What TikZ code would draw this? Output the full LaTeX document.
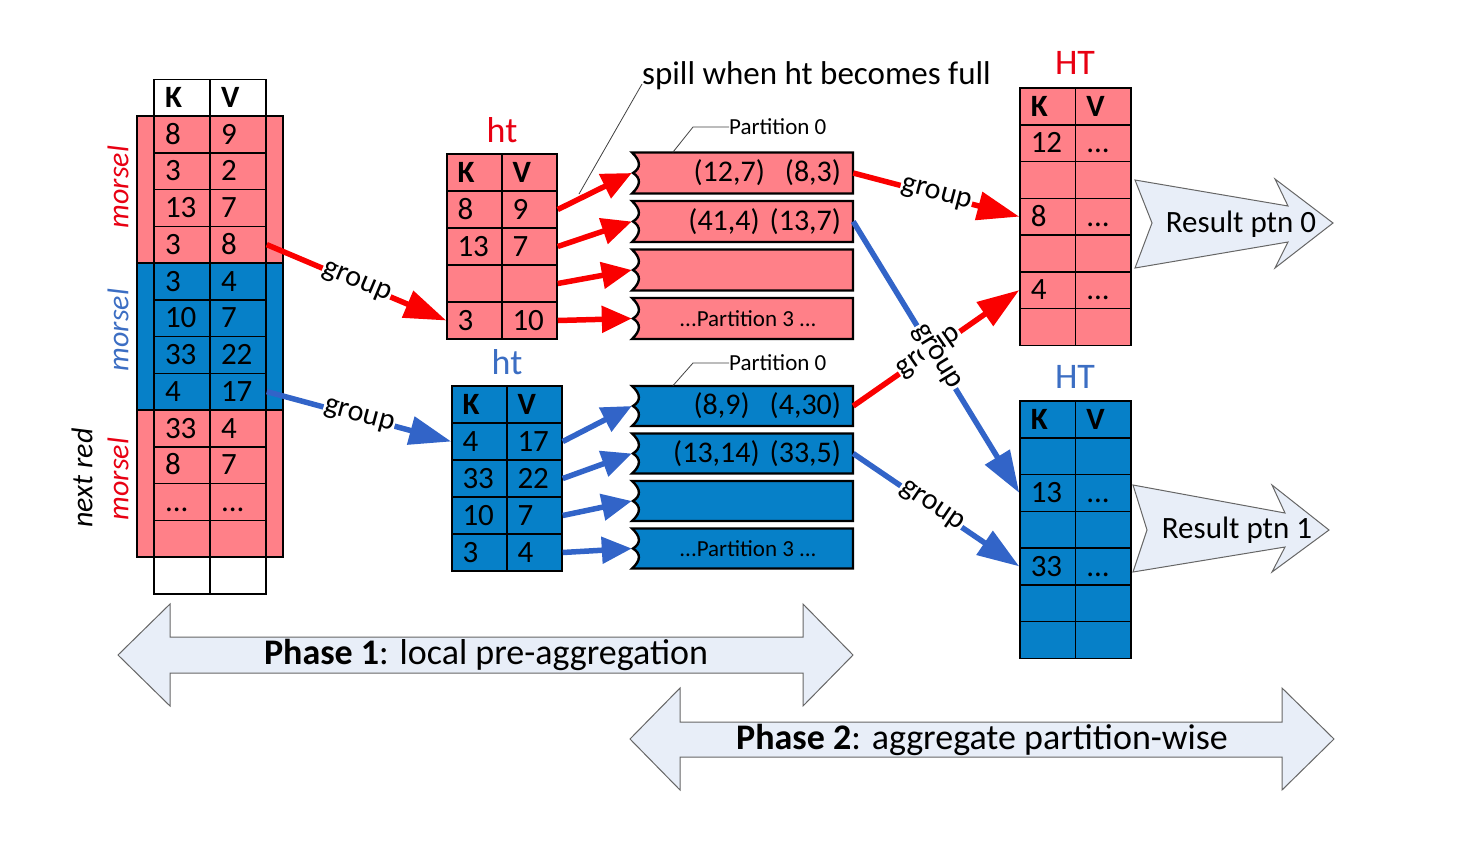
\documentclass[tikz,border=0pt]{standalone}
\usepackage{fontspec}
\setmainfont{Carlito}
\usetikzlibrary{arrows.meta, positioning}

\definecolor{tabred}{RGB}{255,128,136}
\definecolor{tabblue}{RGB}{6,128,200}
\definecolor{arrred}{RGB}{250,0,0}
\definecolor{arrblue}{RGB}{50,100,200}
\definecolor{txtred}{RGB}{232,0,18}
\definecolor{txtblue}{RGB}{60,110,195}
\definecolor{phasefill}{RGB}{232,238,248}
\newcommand\threedots{...}

\begin{document}
\begin{tikzpicture}[x=1pt,y=-1pt]

\tikzset{cell/.style = {draw, line width=1.5pt, minimum width=56pt, minimum height=36.75pt, inner sep=0pt, text width=34pt, text height=19.5pt, text depth=0pt, align=left, font=\fontsize{31}{34}\selectfont}}
\tikzset{ptn/.style = {minimum width=221pt, minimum height=41pt, inner xsep=12pt, inner ysep=0pt, text width=197pt, align=right, font=\fontsize{30}{34}\selectfont}}
\tikzset{ptnbox/.style = {draw, line width=2.4pt}}
\tikzset{note/.style = {inner sep=0pt, font=\fontsize{23}{26}\selectfont}}
\tikzset{callout/.style = {draw=black!75, line width=0.8pt}}
\tikzset{lab/.style = {inner sep=0pt, font=\fontsize{36}{40}\selectfont}}
\tikzset{morsel/.style = {inner sep=0pt, rotate=90, font=\fontsize{30}{32}\selectfont\itshape}}
\tikzset{grp/.style = {sloped, fill=white, inner sep=1pt, font=\fontsize{30}{32}\selectfont}}
\tikzset{redarr/.style = {draw=arrred, line width=5.5pt, -{Triangle[length=30pt,width=26pt]}}}
\tikzset{bluearr/.style = {draw=arrblue, line width=5.5pt, -{Triangle[length=30pt,width=26pt]}}}
\tikzset{long/.style = {-{Triangle[length=42pt,width=28pt]}}}
\tikzset{bigarrow/.style = {draw=black!60, line width=1pt, fill=phasefill}}

\useasboundingbox (0,0) rectangle (1461,852);

%input morsels
\draw[line width=1.5pt, fill=tabred] (137,116) rectangle (283,263);
\draw[line width=1.5pt, fill=tabblue] (137,263) rectangle (283,410);
\draw[line width=1.5pt, fill=tabred] (137,410) rectangle (283,557);
\node[cell, fill=white] (in-kh) at (182,98) {\textbf{K}};
\node[cell, fill=white] (in-vh) at (238,98) {\textbf{V}};
\foreach \k/\v [count=\i] in {8/9, 3/2, 13/7, 3/8, 3/4, 10/7, 33/22, 4/17, 33/4, 8/7, \threedots/\threedots, {}/{}}
{
  \node[cell] (in-k\i) at (182,{116+36.75*(\i-0.5)}) {\k};
  \node[cell] (in-v\i) at (238,{116+36.75*(\i-0.5)}) {\v};
}
\node[cell] (in-kb) at (182,575.4) {};
\node[cell] (in-vb) at (238,575.4) {};

\node[morsel, text=txtred] (m-top) at (118,187) {morsel};
\node[morsel, text=txtblue] (m-mid) at (118,330) {morsel};
\node[morsel, text=txtred] (m-bot) at (118,479) {morsel};
\node[morsel] (m-next) at (82,478) {next red};

%local hash tables
\node[lab, text=txtred] (htr) at (502,130) {ht};
\foreach \k/\v [count=\i] in {\textbf{K}/\textbf{V}, 8/9, 13/7, {}/{}, 3/10}
{
  \node[cell, fill=tabred, minimum width=55pt, minimum height=37pt] (htr-k\i) at (474.5,{154+37*(\i-0.5)}) {\k};
  \node[cell, fill=tabred, minimum width=55pt, minimum height=37pt] (htr-v\i) at (529.5,{154+37*(\i-0.5)}) {\v};
}
\node[lab, text=txtblue] (htb) at (507,362) {ht};
\foreach \k/\v [count=\i] in {\textbf{K}/\textbf{V}, 4/17, 33/22, 10/7, 3/4}
{
  \node[cell, fill=tabblue, minimum width=55pt, minimum height=37pt] (htb-k\i) at (479.5,{386+37*(\i-0.5)}) {\k};
  \node[cell, fill=tabblue, minimum width=55pt, minimum height=37pt] (htb-v\i) at (534.5,{386+37*(\i-0.5)}) {\v};
}

%spilled partitions
\foreach \y/\n/\t in {173/0/{(12,7)\ \ (8,3)}, 221.5/1/{(41,4) (13,7)}, 270/2/{}, 318.5/3/{}}
{
  \draw[ptnbox, fill=tabred] (632,\y-20.5) .. controls (641,\y-12) and (641,\y-5) .. (633,\y) .. controls (641,\y+5) and (641,\y+12) .. (632,\y+20.5) -- (853,\y+20.5) -- (853,\y-20.5) -- cycle;
  \node[ptn] (pr\n) at (742.5,\y) {\t};
}
\foreach \y/\n/\t in {406/0/{(8,9)\ \ (4,30)}, 453.5/1/{(13,14) (33,5)}, 501/2/{}, 548.5/3/{}}
{
  \draw[ptnbox, fill=tabblue] (632,\y-20) .. controls (641,\y-12) and (641,\y-5) .. (633,\y) .. controls (641,\y+5) and (641,\y+12) .. (632,\y+20) -- (853,\y+20) -- (853,\y-20) -- cycle;
  \node[ptn, minimum height=40pt] (pb\n) at (742.5,\y) {\t};
}
\node[note] (pr3-txt) at (748,319) {...Partition 3 ...};
\node[note] (pb3-txt) at (748,549) {...Partition 3 ...};

\node[note, anchor=west] (pr-lab) at (729,127) {Partition 0};
\draw[callout] (pr-lab.west) -- ++(-36,0) -- ([xshift=41pt]pr0.north west);
\node[note, anchor=west] (pb-lab) at (729,363) {Partition 0};
\draw[callout] (pb-lab.west) -- ++(-36,0) -- ([xshift=41pt]pb0.north west);

\node[lab, font=\fontsize{33}{36}\selectfont, anchor=base west] (spill) at (642,84) {spill when ht becomes full};
\coordinate (spillend) at (579,194);
\draw[callout] (spill.base west) -- (spillend);

%global hash tables
\node[lab, text=txtred] (HTr) at (1075,63) {HT};
\foreach \k/\v [count=\i] in {\textbf{K}/\textbf{V}, 12/\threedots, {}/{}, 8/\threedots, {}/{}, 4/\threedots, {}/{}}
{
  \node[cell, fill=tabred, minimum width=55.5pt] (HTr-k\i) at (1047.75,{88+36.75*(\i-0.5)}) {\k};
  \node[cell, fill=tabred, minimum width=55.5pt] (HTr-v\i) at (1103.25,{88+36.75*(\i-0.5)}) {\v};
}
\node[lab, text=txtblue] (HTb) at (1075,377) {HT};
\foreach \k/\v [count=\i] in {\textbf{K}/\textbf{V}, {}/{}, 13/\threedots, {}/{}, 33/\threedots, {}/{}, {}/{}}
{
  \node[cell, fill=tabblue, minimum width=55.5pt] (HTb-k\i) at (1047.75,{401+36.75*(\i-0.5)}) {\k};
  \node[cell, fill=tabblue, minimum width=55.5pt] (HTb-v\i) at (1103.25,{401+36.75*(\i-0.5)}) {\v};
}

%edges
\foreach \i/\p in {2/0, 3/1, 4/2, 5/3}
{
  \draw[redarr] (htr-v\i.east) -- (pr\p.west);
  \draw[bluearr] (htb-v\i.east) -- (pb\p.west);
}
\draw[redarr, long] (in-v4.east) -- node[grp] {group} (htr-k5.west);
\draw[bluearr, long] (in-v8.east) -- node[grp] {group} (htb-k2.west);
\draw[redarr, long] (pr0.east) -- node[grp] {group} (HTr-k4.west);
\draw[redarr, long] (pb0.east) -- node[grp, pos=0.46] {group} (HTr-k6.west);
\draw[bluearr, long] (pr1.east) -- node[grp] {group} (HTb-k3.west);
\draw[bluearr, long] (pb1.east) -- node[grp, pos=0.47] {group} (HTb-k5.west);

%results
\draw[bigarrow] (1135,180) -- (1288,206) -- (1275,179) -- (1333,223) -- (1275,268) -- (1288,242) -- (1135,268) -- (1152,223) -- cycle;
\node[lab, font=\fontsize{31}{34}\selectfont] (res0) at (1241,224) {Result ptn 0};
\draw[bigarrow] (1133,485) -- (1285,513) -- (1272,485) -- (1329,530) -- (1272,572) -- (1285,547) -- (1133,572) -- (1147,530) -- cycle;
\node[lab, font=\fontsize{31}{34}\selectfont] (res1) at (1237,530) {Result ptn 1};

%phases
\draw[bigarrow] (118,655) -- (170,604) -- (170,637) -- (803,637) -- (803,604) -- (853,655) -- (803,706) -- (803,673) -- (170,673) -- (170,706) -- cycle;
\node[lab] (ph1) at (486,655) {\textbf{Phase 1}: local pre-aggregation};
\draw[bigarrow] (630,739) -- (680,688) -- (680,722) -- (1282,722) -- (1282,688) -- (1334,739) -- (1282,790) -- (1282,757) -- (680,757) -- (680,790) -- cycle;
\node[lab] (ph2) at (982,740) {\textbf{Phase 2}: aggregate partition-wise};

\end{tikzpicture}
\end{document}
